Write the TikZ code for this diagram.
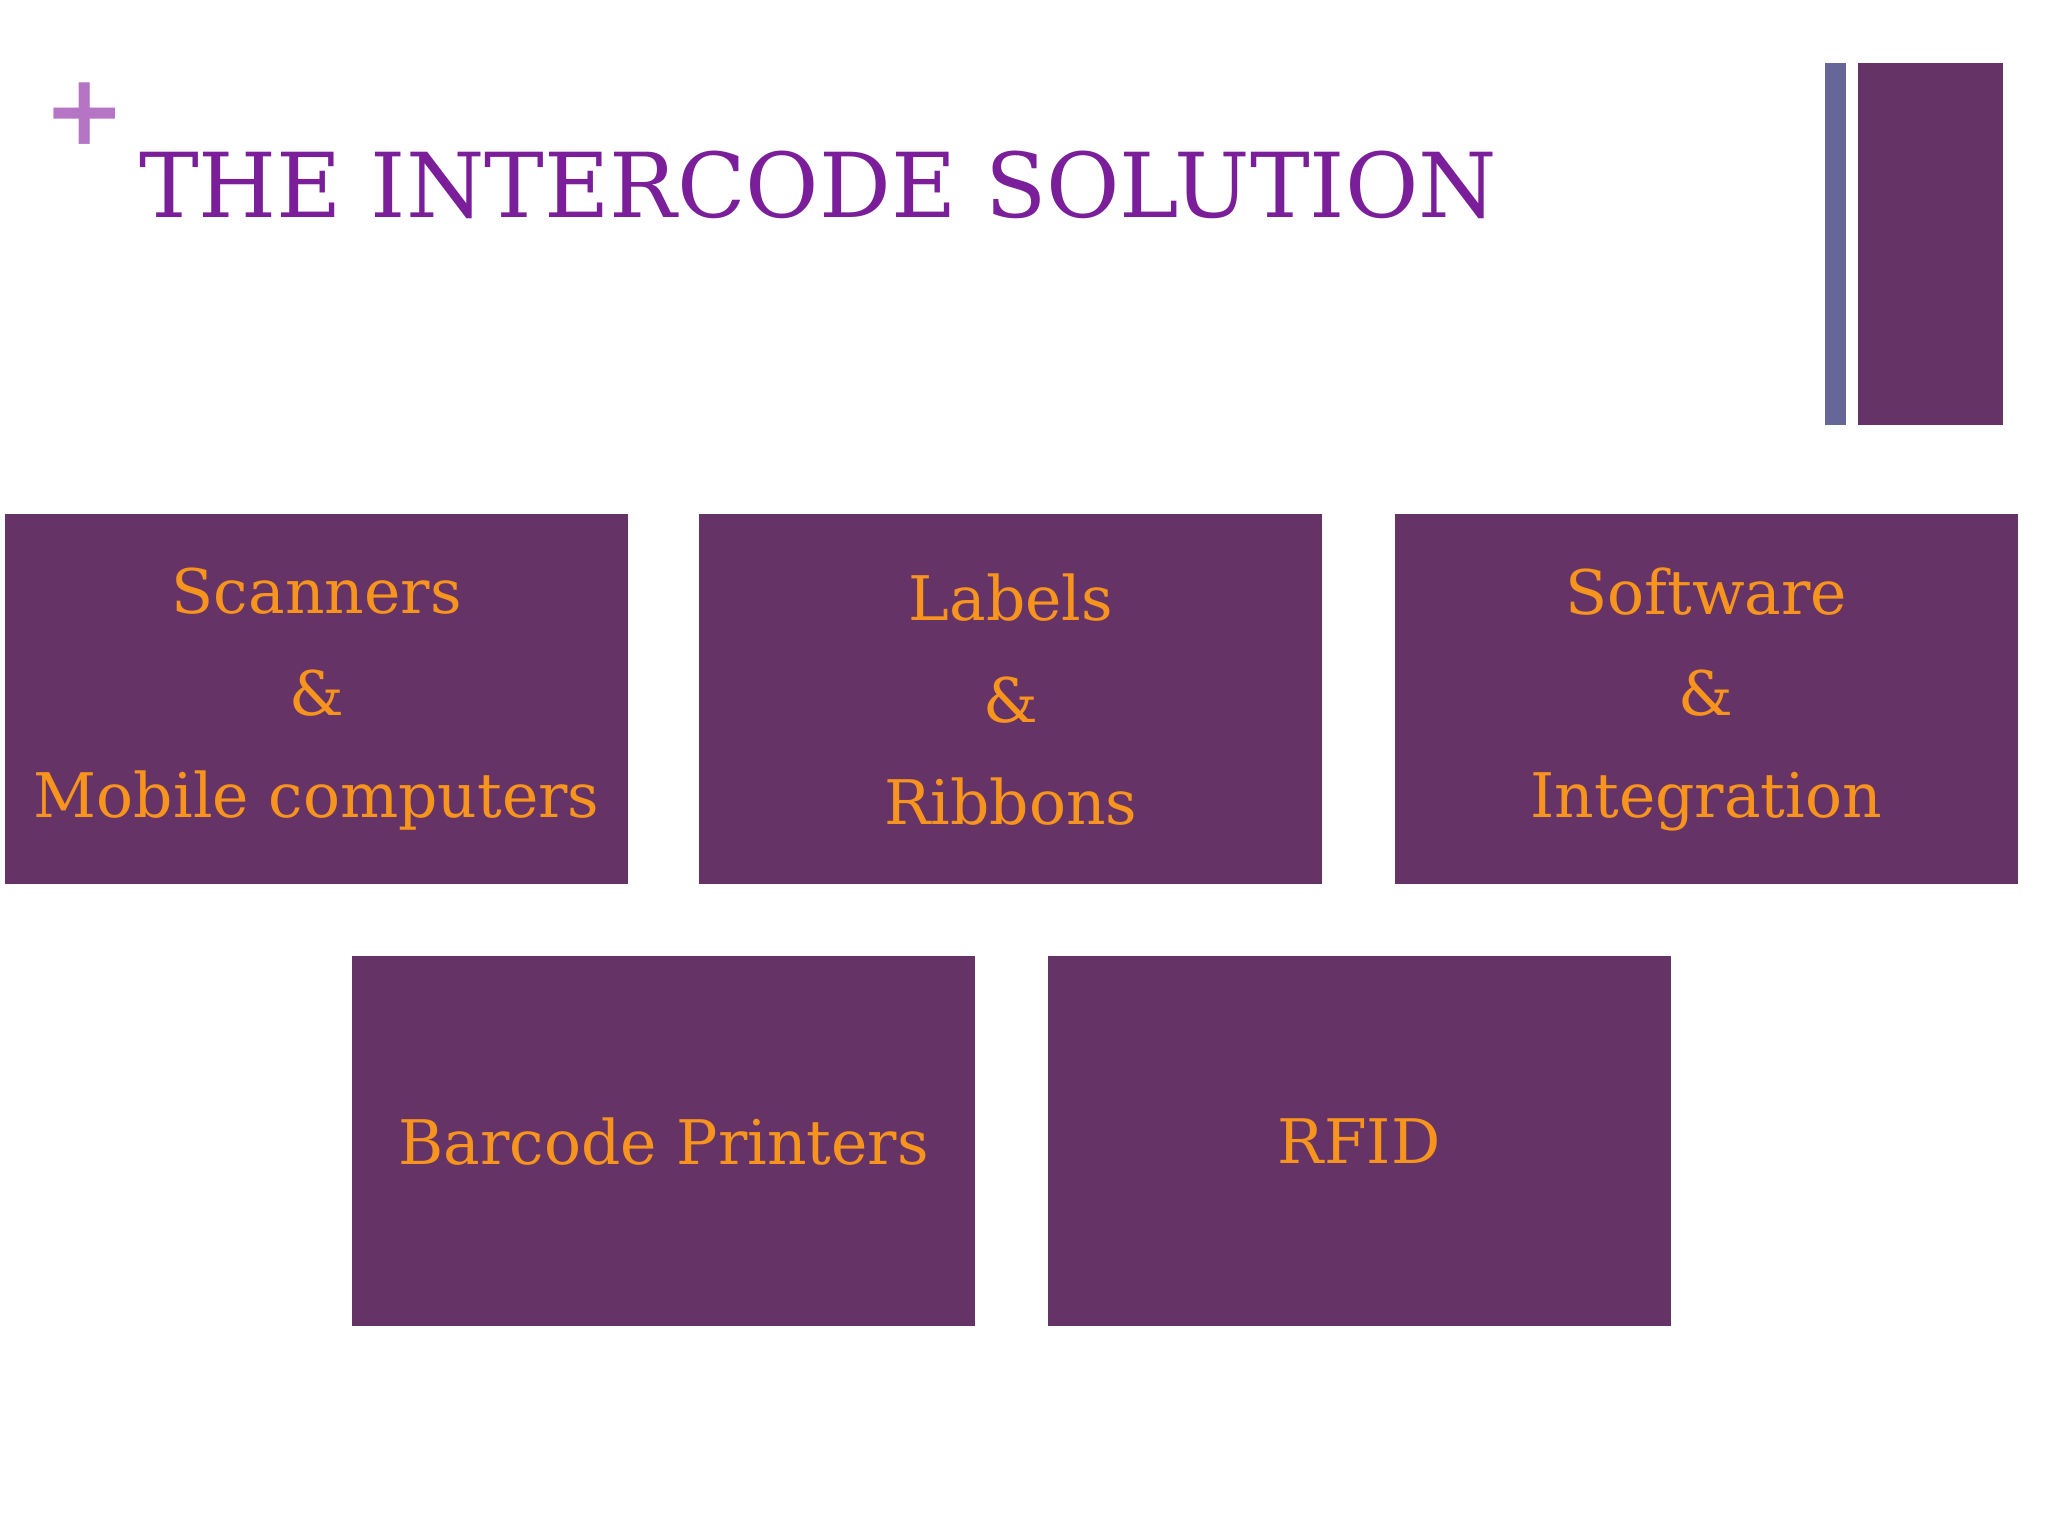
\documentclass[tikz,border=0pt]{standalone}
\usepackage{fontspec}
\setmainfont{DejaVu Serif}
\usetikzlibrary{positioning}
\definecolor{boxpurple}{HTML}{663366}
\definecolor{titlepurple}{HTML}{7A1F99}
\definecolor{pluspurple}{HTML}{B574C4}
\definecolor{barblue}{HTML}{666699}
\definecolor{textorange}{HTML}{F7941D}
\tikzset{
  item/.style = {fill = boxpurple, text = textorange, align = center,
    minimum width = 6.23cm, minimum height = 3.70cm, inner sep = 0pt,
    font = \fontsize{17.5}{29}\selectfont}
}
\begin{document}
\begin{tikzpicture}[x = 0.0132cm, y = -0.0132cm]
    \useasboundingbox (0,0) rectangle (1552,1164);
    % title
    \node [text = pluspurple, font = \fontsize{28}{28}\selectfont\bfseries] (plus) at (64,86) {+};
    \node [anchor = west, text = titlepurple, font = \fontsize{25.5}{26}\selectfont] (title) at (96,140) {THE INTERCODE SOLUTION};
    % bars
    \fill [barblue] (1383,48) rectangle (1399,322);
    \fill [boxpurple] (1408,48) rectangle (1518,322);
    % boxes
    \node [item] (scan) at (240,530) {Scanners\\\&\\Mobile computers};
    \node [item] (label) at (766,530) {Labels\\\&\\Ribbons};
    \node [item] (soft) at (1293,530) {Software\\\&\\Integration};
    \node [item] (print) at (503,865) {Barcode Printers};
    \node [item] (rfid) at (1030,865) {RFID};
\end{tikzpicture}
\end{document}
